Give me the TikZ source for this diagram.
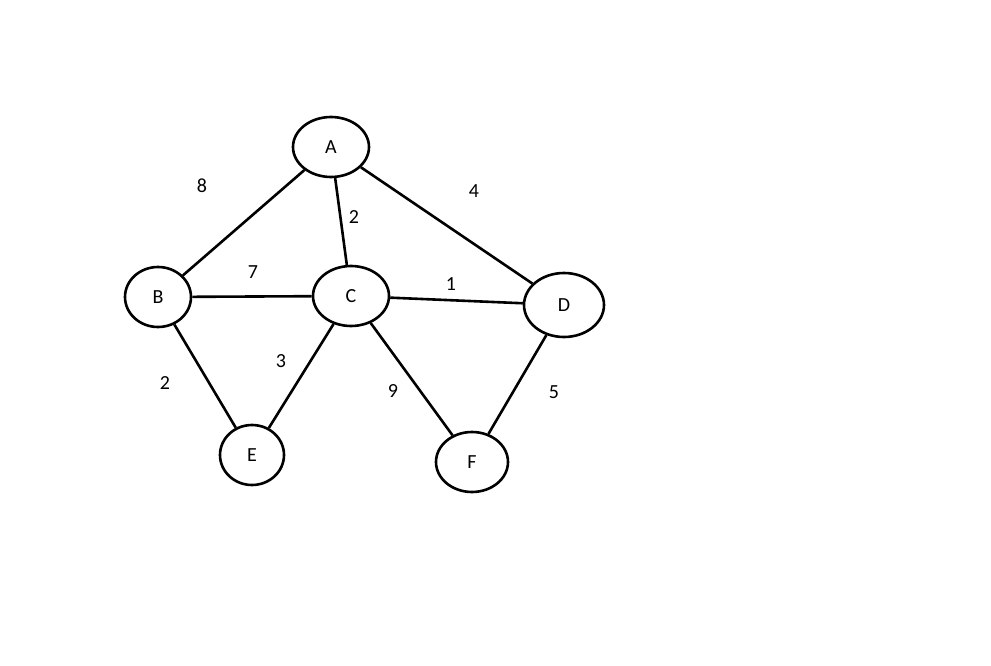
\documentclass[tikz,border=0pt]{standalone}
\usepackage{fontspec}
\setmainfont{Carlito}
\usetikzlibrary{shapes.geometric}
\begin{document}
\begin{tikzpicture}[x=1pt,y=-1pt,
  vert/.style={draw,ellipse,line width=2.6pt,inner sep=0pt,font=\fontsize{20}{20}\selectfont},
  edge/.style={line width=2.6pt},
  wt/.style={font=\fontsize{20}{20}\selectfont}]
\useasboundingbox (0,0) rectangle (991,666);
\node[vert,minimum width=76pt,minimum height=60pt] (A) at (331,147) {A};
\node[vert,minimum width=66pt,minimum height=60pt] (B) at (158,297) {B};
\node[vert,minimum width=76pt,minimum height=60pt] (C) at (351,296) {C};
\node[vert,minimum width=80pt,minimum height=64pt] (D) at (564,305) {D};
\node[vert,minimum width=64pt,minimum height=60pt] (E) at (252,455) {E};
\node[vert,minimum width=72pt,minimum height=60pt] (F) at (472,462) {F};
\draw[edge] (A) -- (B);
\draw[edge] (A) -- (C);
\draw[edge] (A) -- (D);
\draw[edge] (B) -- (C);
\draw[edge] (C) -- (D);
\draw[edge] (B) -- (E);
\draw[edge] (C) -- (E);
\draw[edge] (C) -- (F);
\draw[edge] (D) -- (F);
\node[wt] (w1) at (202,186) {8};
\node[wt] (w2) at (354,217) {2};
\node[wt] (w3) at (474,191) {4};
\node[wt] (w4) at (253,272) {7};
\node[wt] (w5) at (451,284) {1};
\node[wt] (w6) at (281,361) {3};
\node[wt] (w7) at (165,383) {2};
\node[wt] (w8) at (393,391) {9};
\node[wt] (w9) at (554,392) {5};
\end{tikzpicture}
\end{document}
